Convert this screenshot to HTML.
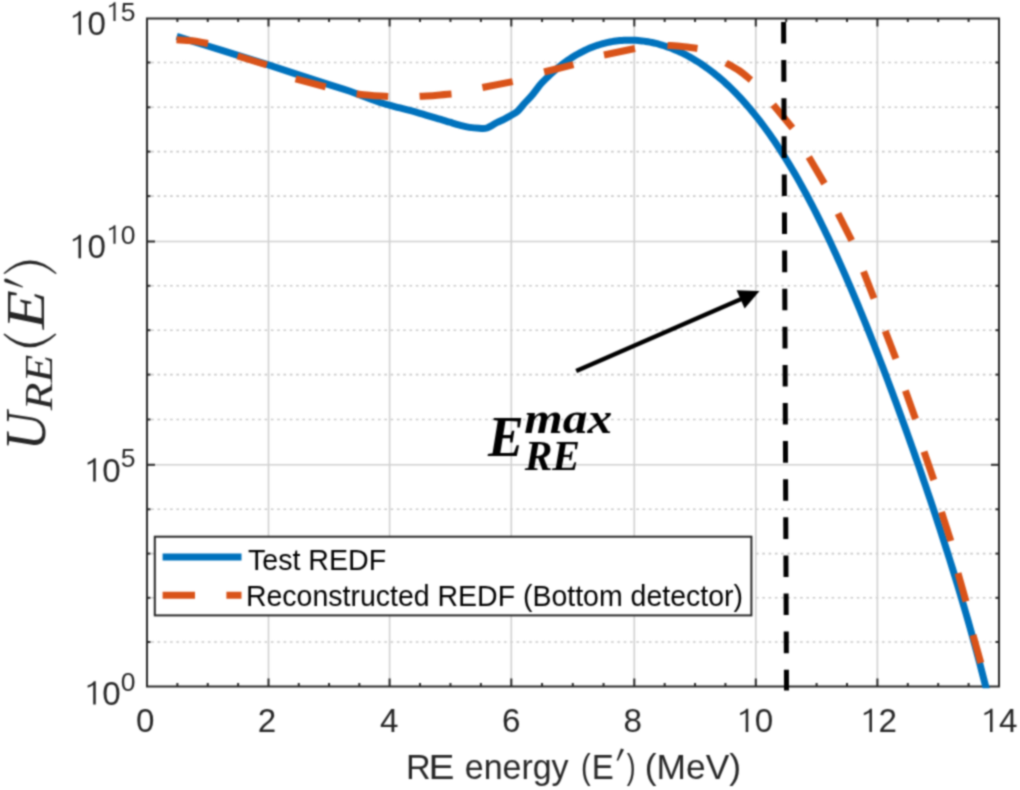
<!DOCTYPE html><html><head><meta charset="utf-8"><style>html,body{margin:0;padding:0;background:#fff;}svg{display:block;}</style></head><body>
<svg width="1020" height="790" viewBox="0 0 1020 790">
<rect width="1020" height="790" fill="#fff"/>
<filter id="bl" x="0" y="0" width="1020" height="790" filterUnits="userSpaceOnUse" color-interpolation-filters="sRGB"><feConvolveMatrix order="5" kernelMatrix="0.0019 0.0201 0.0439 0.0201 0.0019 0.0201 0.2096 0.4578 0.2096 0.0201 0.0439 0.4578 1.0000 0.4578 0.0439 0.0201 0.2096 0.4578 0.2096 0.0201 0.0019 0.0201 0.0439 0.0201 0.0019" edgeMode="duplicate"/></filter>
<g filter="url(#bl)">
<defs><clipPath id="ax"><rect x="147.0" y="18.5" width="852.0" height="669.8"/></clipPath></defs>
<g stroke="#c8c8c8" stroke-width="1.6" stroke-dasharray="2.6 3.7"><line x1="151.2" y1="642.00" x2="997.0" y2="642.00"/><line x1="151.2" y1="597.80" x2="997.0" y2="597.80"/><line x1="151.2" y1="553.60" x2="997.0" y2="553.60"/><line x1="151.2" y1="509.30" x2="997.0" y2="509.30"/><line x1="151.2" y1="419.50" x2="997.0" y2="419.50"/><line x1="151.2" y1="374.60" x2="997.0" y2="374.60"/><line x1="151.2" y1="330.20" x2="997.0" y2="330.20"/><line x1="151.2" y1="285.80" x2="997.0" y2="285.80"/><line x1="151.2" y1="196.10" x2="997.0" y2="196.10"/><line x1="151.2" y1="151.60" x2="997.0" y2="151.60"/><line x1="151.2" y1="107.30" x2="997.0" y2="107.30"/><line x1="151.2" y1="62.50" x2="997.0" y2="62.50"/></g>
<g stroke="#d0d0d0" stroke-width="1.6"><line x1="147.0" y1="464.80" x2="999.0" y2="464.80"/><line x1="147.0" y1="241.50" x2="999.0" y2="241.50"/><line x1="268.50" y1="18.5" x2="268.50" y2="686.5"/><line x1="389.60" y1="18.5" x2="389.60" y2="686.5"/><line x1="511.30" y1="18.5" x2="511.30" y2="686.5"/><line x1="634.30" y1="18.5" x2="634.30" y2="686.5"/><line x1="755.80" y1="18.5" x2="755.80" y2="686.5"/><line x1="877.40" y1="18.5" x2="877.40" y2="686.5"/></g>
<rect x="147.0" y="18.5" width="852.0" height="668.0" fill="none" stroke="#262626" stroke-width="2"/>
<g stroke="#262626" stroke-width="2"><line x1="177.38" y1="686.5" x2="177.38" y2="683.0"/><line x1="177.38" y1="18.5" x2="177.38" y2="22.0"/><line x1="207.75" y1="686.5" x2="207.75" y2="683.0"/><line x1="207.75" y1="18.5" x2="207.75" y2="22.0"/><line x1="238.12" y1="686.5" x2="238.12" y2="683.0"/><line x1="238.12" y1="18.5" x2="238.12" y2="22.0"/><line x1="268.50" y1="686.5" x2="268.50" y2="678.5"/><line x1="268.50" y1="18.5" x2="268.50" y2="26.5"/><line x1="298.77" y1="686.5" x2="298.77" y2="683.0"/><line x1="298.77" y1="18.5" x2="298.77" y2="22.0"/><line x1="329.05" y1="686.5" x2="329.05" y2="683.0"/><line x1="329.05" y1="18.5" x2="329.05" y2="22.0"/><line x1="359.33" y1="686.5" x2="359.33" y2="683.0"/><line x1="359.33" y1="18.5" x2="359.33" y2="22.0"/><line x1="389.60" y1="686.5" x2="389.60" y2="678.5"/><line x1="389.60" y1="18.5" x2="389.60" y2="26.5"/><line x1="420.03" y1="686.5" x2="420.03" y2="683.0"/><line x1="420.03" y1="18.5" x2="420.03" y2="22.0"/><line x1="450.45" y1="686.5" x2="450.45" y2="683.0"/><line x1="450.45" y1="18.5" x2="450.45" y2="22.0"/><line x1="480.88" y1="686.5" x2="480.88" y2="683.0"/><line x1="480.88" y1="18.5" x2="480.88" y2="22.0"/><line x1="511.30" y1="686.5" x2="511.30" y2="678.5"/><line x1="511.30" y1="18.5" x2="511.30" y2="26.5"/><line x1="542.05" y1="686.5" x2="542.05" y2="683.0"/><line x1="542.05" y1="18.5" x2="542.05" y2="22.0"/><line x1="572.80" y1="686.5" x2="572.80" y2="683.0"/><line x1="572.80" y1="18.5" x2="572.80" y2="22.0"/><line x1="603.55" y1="686.5" x2="603.55" y2="683.0"/><line x1="603.55" y1="18.5" x2="603.55" y2="22.0"/><line x1="634.30" y1="686.5" x2="634.30" y2="678.5"/><line x1="634.30" y1="18.5" x2="634.30" y2="26.5"/><line x1="664.67" y1="686.5" x2="664.67" y2="683.0"/><line x1="664.67" y1="18.5" x2="664.67" y2="22.0"/><line x1="695.05" y1="686.5" x2="695.05" y2="683.0"/><line x1="695.05" y1="18.5" x2="695.05" y2="22.0"/><line x1="725.42" y1="686.5" x2="725.42" y2="683.0"/><line x1="725.42" y1="18.5" x2="725.42" y2="22.0"/><line x1="755.80" y1="686.5" x2="755.80" y2="678.5"/><line x1="755.80" y1="18.5" x2="755.80" y2="26.5"/><line x1="786.20" y1="686.5" x2="786.20" y2="683.0"/><line x1="786.20" y1="18.5" x2="786.20" y2="22.0"/><line x1="816.60" y1="686.5" x2="816.60" y2="683.0"/><line x1="816.60" y1="18.5" x2="816.60" y2="22.0"/><line x1="847.00" y1="686.5" x2="847.00" y2="683.0"/><line x1="847.00" y1="18.5" x2="847.00" y2="22.0"/><line x1="877.40" y1="686.5" x2="877.40" y2="678.5"/><line x1="877.40" y1="18.5" x2="877.40" y2="26.5"/><line x1="907.80" y1="686.5" x2="907.80" y2="683.0"/><line x1="907.80" y1="18.5" x2="907.80" y2="22.0"/><line x1="938.20" y1="686.5" x2="938.20" y2="683.0"/><line x1="938.20" y1="18.5" x2="938.20" y2="22.0"/><line x1="968.60" y1="686.5" x2="968.60" y2="683.0"/><line x1="968.60" y1="18.5" x2="968.60" y2="22.0"/><line x1="147.0" y1="642.00" x2="150.5" y2="642.00"/><line x1="999.0" y1="642.00" x2="995.5" y2="642.00"/><line x1="147.0" y1="597.80" x2="150.5" y2="597.80"/><line x1="999.0" y1="597.80" x2="995.5" y2="597.80"/><line x1="147.0" y1="553.60" x2="150.5" y2="553.60"/><line x1="999.0" y1="553.60" x2="995.5" y2="553.60"/><line x1="147.0" y1="509.30" x2="150.5" y2="509.30"/><line x1="999.0" y1="509.30" x2="995.5" y2="509.30"/><line x1="147.0" y1="464.80" x2="155.0" y2="464.80"/><line x1="999.0" y1="464.80" x2="991.0" y2="464.80"/><line x1="147.0" y1="419.50" x2="150.5" y2="419.50"/><line x1="999.0" y1="419.50" x2="995.5" y2="419.50"/><line x1="147.0" y1="374.60" x2="150.5" y2="374.60"/><line x1="999.0" y1="374.60" x2="995.5" y2="374.60"/><line x1="147.0" y1="330.20" x2="150.5" y2="330.20"/><line x1="999.0" y1="330.20" x2="995.5" y2="330.20"/><line x1="147.0" y1="285.80" x2="150.5" y2="285.80"/><line x1="999.0" y1="285.80" x2="995.5" y2="285.80"/><line x1="147.0" y1="241.50" x2="155.0" y2="241.50"/><line x1="999.0" y1="241.50" x2="991.0" y2="241.50"/><line x1="147.0" y1="196.10" x2="150.5" y2="196.10"/><line x1="999.0" y1="196.10" x2="995.5" y2="196.10"/><line x1="147.0" y1="151.60" x2="150.5" y2="151.60"/><line x1="999.0" y1="151.60" x2="995.5" y2="151.60"/><line x1="147.0" y1="107.30" x2="150.5" y2="107.30"/><line x1="999.0" y1="107.30" x2="995.5" y2="107.30"/><line x1="147.0" y1="62.50" x2="150.5" y2="62.50"/><line x1="999.0" y1="62.50" x2="995.5" y2="62.50"/></g>
<g clip-path="url(#ax)" fill="none">
<path d="M176.70 36.40 C184.25 38.73 206.85 45.68 222.00 50.40 C237.15 55.12 250.68 59.28 267.60 64.70 C284.52 70.12 309.77 78.47 323.50 82.90 C337.23 87.33 340.58 88.03 350.00 91.30 C359.42 94.57 371.67 99.73 380.00 102.50 C388.33 105.27 393.33 106.10 400.00 107.90 C406.67 109.70 413.33 111.42 420.00 113.30 C426.67 115.18 435.03 117.72 440.00 119.20 C444.97 120.68 446.53 121.22 449.80 122.20 C453.07 123.18 456.33 124.23 459.60 125.10 C462.87 125.97 466.13 126.87 469.40 127.40 C472.67 127.93 476.27 128.20 479.20 128.30 C482.13 128.40 484.03 128.97 487.00 128.00 C489.97 127.03 494.18 123.95 497.00 122.50 C499.82 121.05 501.58 120.47 503.90 119.30 C506.22 118.13 508.63 116.83 510.90 115.50 C513.17 114.17 515.18 113.38 517.50 111.30 C519.82 109.22 522.42 105.63 524.80 103.00 C527.18 100.37 529.27 98.53 531.80 95.50 C534.33 92.47 538.63 86.59 540.00 84.81 L542.00 82.70 L544.00 80.65 L546.00 78.65 L548.00 76.70 L550.00 74.81 L552.00 72.97 L554.00 71.19 L556.00 69.46 L558.00 67.78 L560.00 66.16 L562.00 64.60 L564.00 63.08 L566.00 61.62 L568.00 60.21 L570.00 58.85 L572.00 57.55 L574.00 56.30 L576.00 55.09 L578.00 53.94 L580.00 52.84 L582.00 51.79 L584.00 50.78 L586.00 49.83 L588.00 48.92 L590.00 48.06 L592.00 47.25 L594.00 46.49 L596.00 45.77 L598.00 45.09 L600.00 44.47 L602.00 43.88 L604.00 43.34 L606.00 42.85 L608.00 42.39 L610.00 41.98 L612.00 41.61 L614.00 41.29 L616.00 41.00 L618.00 40.76 L620.00 40.56 L622.00 40.39 L624.00 40.27 L626.00 40.19 L628.00 40.14 L630.00 40.13 L632.00 40.17 L634.00 40.24 L636.00 40.35 L638.00 40.49 L640.00 40.68 L642.00 40.90 L644.00 41.15 L646.00 41.45 L648.00 41.78 L650.00 42.15 L652.00 42.55 L654.00 42.99 L656.00 43.47 L658.00 43.98 L660.00 44.53 L662.00 45.12 L664.00 45.74 L666.00 46.40 L668.00 47.09 L670.00 47.82 L672.00 48.59 L674.00 49.39 L676.00 50.23 L678.00 51.10 L680.00 52.01 L682.00 52.96 L684.00 53.95 L686.00 54.97 L688.00 56.03 L690.00 57.12 L692.00 58.26 L694.00 59.43 L696.00 60.64 L698.00 61.89 L700.00 63.18 L702.00 64.51 L704.00 65.87 L706.00 67.28 L708.00 68.72 L710.00 70.21 L712.00 71.73 L714.00 73.30 L716.00 74.90 L718.00 76.55 L720.00 78.24 L722.00 79.97 L724.00 81.74 L726.00 83.56 L728.00 85.42 L730.00 87.32 L732.00 89.26 L734.00 91.25 L736.00 93.28 L738.00 95.36 L740.00 97.48 L742.00 99.65 L744.00 101.86 L746.00 104.11 L748.00 106.42 L750.00 108.76 L752.00 111.16 L754.00 113.60 L756.00 116.08 L758.00 118.62 L760.00 121.20 L762.00 123.83 L764.00 126.50 L766.00 129.22 L768.00 131.99 L770.00 134.81 L772.00 137.68 L774.00 140.59 L776.00 143.56 L778.00 146.57 L780.00 149.63 L782.00 152.73 L784.00 155.89 L786.00 159.09 L788.00 162.35 L790.00 165.65 L792.00 169.00 L794.00 172.39 L796.00 175.84 L798.00 179.33 L800.00 182.87 L802.00 186.46 L804.00 190.10 L806.00 193.78 L808.00 197.51 L810.00 201.29 L812.00 205.12 L814.00 208.99 L816.00 212.91 L818.00 216.87 L820.00 220.88 L822.00 224.93 L824.00 229.03 L826.00 233.17 L828.00 237.36 L830.00 241.59 L832.00 245.86 L834.00 250.18 L836.00 254.54 L838.00 258.94 L840.00 263.38 L842.00 267.87 L844.00 272.39 L846.00 276.95 L848.00 281.56 L850.00 286.20 L852.00 290.88 L854.00 295.60 L856.00 300.36 L858.00 305.15 L860.00 309.98 L862.00 314.84 L864.00 319.75 L866.00 324.68 L868.00 329.65 L870.00 334.65 L872.00 339.69 L874.00 344.76 L876.00 349.86 L878.00 355.00 L880.00 360.16 L882.00 365.36 L884.00 370.58 L886.00 375.84 L888.00 381.13 L890.00 386.45 L892.00 391.79 L894.00 397.17 L896.00 402.57 L898.00 408.01 L900.00 413.47 L902.00 418.96 L904.00 424.48 L906.00 430.03 L908.00 435.61 L910.00 441.22 L912.00 446.85 L914.00 452.52 L916.00 458.22 L918.00 463.94 L920.00 469.70 L922.00 475.49 L924.00 481.32 L926.00 487.17 L928.00 493.06 L930.00 498.99 L932.00 504.95 L934.00 510.95 L936.00 516.99 L938.00 523.07 L940.00 529.19 L942.00 535.36 L944.00 541.57 L946.00 547.83 L948.00 554.14 L950.00 560.50 L952.00 566.91 L954.00 573.39 L956.00 579.92 L958.00 586.52 L960.00 593.18 L962.00 599.92 L964.00 606.73 L966.00 613.61 L968.00 620.58 L970.00 627.63 L972.00 634.77 L974.00 642.01 L976.00 649.35 L978.00 656.79 L980.00 664.34 L982.00 672.01 L984.00 679.79 L986.00 687.71 L988.00 695.76" stroke="#0072BD" stroke-width="7" stroke-linejoin="round"/>
<path d="M176.50 39.80 C179.08 39.97 186.75 40.17 192.00 40.80 C197.25 41.43 205.33 43.13 208.00 43.60" stroke="#D95319" stroke-width="7"/>
<path d="M237.5 56.0 L266.9 65.0" stroke="#D95319" stroke-width="7"/>
<path d="M295.6 78.8 L325.7 86.8" stroke="#D95319" stroke-width="7"/>
<path d="M356.60 94.00 C359.17 94.27 366.73 95.18 372.00 95.60 C377.27 96.02 385.50 96.35 388.20 96.50" stroke="#D95319" stroke-width="7"/>
<path d="M419.60 96.30 C422.17 96.15 429.68 95.78 435.00 95.40 C440.32 95.02 448.75 94.23 451.50 94.00" stroke="#D95319" stroke-width="7"/>
<path d="M482.4 87.5 L512.7 81.6" stroke="#D95319" stroke-width="7"/>
<path d="M544.1 72.0 L573.5 64.7" stroke="#D95319" stroke-width="7"/>
<path d="M604.0 55.0 L635.0 48.5" stroke="#D95319" stroke-width="7"/>
<path d="M667.50 45.40 C669.92 45.57 677.00 45.88 682.00 46.40 C687.00 46.92 694.92 48.15 697.50 48.50" stroke="#D95319" stroke-width="7"/>
<path d="M726.00 62.90 C728.17 64.17 734.83 67.65 739.00 70.50 C743.17 73.35 749.00 78.42 751.00 80.00" stroke="#D95319" stroke-width="7"/>
<path d="M773.2 104.8 L792.5 128.0" stroke="#D95319" stroke-width="7"/>
<path d="M808.8 157.0 L824.5 183.6" stroke="#D95319" stroke-width="7"/>
<path d="M838.0 213.5 L851.7 240.5" stroke="#D95319" stroke-width="7"/>
<path d="M863.5 271.5 L874.0 298.5" stroke="#D95319" stroke-width="7"/>
<path d="M885.2 331.0 L895.9 358.7" stroke="#D95319" stroke-width="7"/>
<path d="M905.4 390.6 L915.5 419.0" stroke="#D95319" stroke-width="7"/>
<path d="M924.0 451.6 L933.8 480.0" stroke="#D95319" stroke-width="7"/>
<path d="M941.5 512.0 L950.8 541.0" stroke="#D95319" stroke-width="7"/>
<path d="M958.0 573.1 L966.0 601.5" stroke="#D95319" stroke-width="7"/>
<path d="M973.0 635.0 L980.8 663.0" stroke="#D95319" stroke-width="7"/>
</g>
<line x1="783.6" y1="22" x2="786.5" y2="690.4" stroke="#000" stroke-width="5" stroke-dasharray="21.6 16.5"/>
<g fill="#262626">
<text x="136.02" y="732.00" font-family="Liberation Sans, sans-serif" font-size="33.20">0</text>
<text x="257.77" y="732.00" font-family="Liberation Sans, sans-serif" font-size="33.20">2</text>
<text x="379.97" y="732.00" font-family="Liberation Sans, sans-serif" font-size="33.20">4</text>
<text x="502.07" y="732.00" font-family="Liberation Sans, sans-serif" font-size="33.20">6</text>
<text x="623.57" y="732.00" font-family="Liberation Sans, sans-serif" font-size="33.20">8</text>
<path transform="translate(736.24 732.00) scale(0.03320 -0.03320)" d="M285 0 L362 0 L362 703 L305 703 Q282 652 212 614 L117 574 L117 505 Q220 537 285 590 Z"/><text x="754.70" y="732.00" font-family="Liberation Sans, sans-serif" font-size="33.20">0</text>
<path transform="translate(859.94 732.00) scale(0.03320 -0.03320)" d="M285 0 L362 0 L362 703 L305 703 Q282 652 212 614 L117 574 L117 505 Q220 537 285 590 Z"/><text x="878.40" y="732.00" font-family="Liberation Sans, sans-serif" font-size="33.20">2</text>
<path transform="translate(980.54 732.00) scale(0.03320 -0.03320)" d="M285 0 L362 0 L362 703 L305 703 Q282 652 212 614 L117 574 L117 505 Q220 537 285 590 Z"/><text x="999.00" y="732.00" font-family="Liberation Sans, sans-serif" font-size="33.20">4</text>
<path transform="translate(105.93 20.90) scale(0.02650 -0.02650)" d="M285 0 L362 0 L362 703 L305 703 Q282 652 212 614 L117 574 L117 505 Q220 537 285 590 Z"/><text x="120.67" y="20.90" font-family="Liberation Sans, sans-serif" font-size="26.50">5</text>
<path transform="translate(69.01 34.70) scale(0.03320 -0.03320)" d="M285 0 L362 0 L362 703 L305 703 Q282 652 212 614 L117 574 L117 505 Q220 537 285 590 Z"/><text x="87.47" y="34.70" font-family="Liberation Sans, sans-serif" font-size="33.20">0</text>
<path transform="translate(105.93 243.80) scale(0.02650 -0.02650)" d="M285 0 L362 0 L362 703 L305 703 Q282 652 212 614 L117 574 L117 505 Q220 537 285 590 Z"/><text x="120.67" y="243.80" font-family="Liberation Sans, sans-serif" font-size="26.50">0</text>
<path transform="translate(69.01 258.20) scale(0.03320 -0.03320)" d="M285 0 L362 0 L362 703 L305 703 Q282 652 212 614 L117 574 L117 505 Q220 537 285 590 Z"/><text x="87.47" y="258.20" font-family="Liberation Sans, sans-serif" font-size="33.20">0</text>
<text x="120.67" y="467.40" font-family="Liberation Sans, sans-serif" font-size="26.50">5</text>
<path transform="translate(83.75 481.50) scale(0.03320 -0.03320)" d="M285 0 L362 0 L362 703 L305 703 Q282 652 212 614 L117 574 L117 505 Q220 537 285 590 Z"/><text x="102.21" y="481.50" font-family="Liberation Sans, sans-serif" font-size="33.20">0</text>
<text x="120.67" y="690.50" font-family="Liberation Sans, sans-serif" font-size="26.50">0</text>
<path transform="translate(83.75 704.60) scale(0.03320 -0.03320)" d="M285 0 L362 0 L362 703 L305 703 Q282 652 212 614 L117 574 L117 505 Q220 537 285 590 Z"/><text x="102.21" y="704.60" font-family="Liberation Sans, sans-serif" font-size="33.20">0</text>
</g>
<g fill="#262626">
<text x="406.00" y="779.00" font-family="Liberation Sans, sans-serif" font-size="34.60" textLength="24.69" lengthAdjust="spacingAndGlyphs">R</text>
<text x="428.61" y="779.00" font-family="Liberation Sans, sans-serif" font-size="34.60" textLength="25.97" lengthAdjust="spacingAndGlyphs">E</text>
<text x="464.76" y="779.00" font-family="Liberation Sans, sans-serif" font-size="34.60" textLength="103.81" lengthAdjust="spacingAndGlyphs">energy</text>
<text x="581.00" y="779.00" font-family="Liberation Sans, sans-serif" font-size="34.60" textLength="9.67" lengthAdjust="spacingAndGlyphs">(</text>
<text x="591.69" y="779.00" font-family="Liberation Sans, sans-serif" font-size="34.60" textLength="22.03" lengthAdjust="spacingAndGlyphs">E</text>
<text x="626.85" y="779.00" font-family="Liberation Sans, sans-serif" font-size="34.60" textLength="8.79" lengthAdjust="spacingAndGlyphs">)</text>
<text x="644.81" y="779.00" font-family="Liberation Sans, sans-serif" font-size="34.60" textLength="96.29" lengthAdjust="spacingAndGlyphs">(MeV)</text>
<polygon points="620.9,748.6 624.0,749.4 618.2,760.8 616.6,760.4"/>
</g>
<g transform="rotate(-90)" fill="#262626">
<text x="-450.27" y="44.60" font-family="Liberation Serif, serif" font-size="57.50" font-style="italic" textLength="38.29" lengthAdjust="spacingAndGlyphs">U</text>
<text x="-410.26" y="52.00" font-family="Liberation Serif, serif" font-size="40.00" font-style="italic" textLength="55.39" lengthAdjust="spacingAndGlyphs">RE</text>
<text x="-329.25" y="43.70" font-family="Liberation Serif, serif" font-size="55.00" font-style="italic" textLength="38.98" lengthAdjust="spacingAndGlyphs">E</text>
</g>
<g fill="#262626">
<path d="M3.4 273.2 Q30 247.6 56.8 273.2 L55.6 274.0 Q30 253.6 4.6 274.0 Z"/>
<path d="M3.4 334.4 Q30 360.0 56.4 334.4 L55.2 333.6 Q30 354.0 4.6 333.6 Z"/>
<path d="M4.4 279.0 Q3.6 282.2 6.2 282.6 L22.6 287.6 L23.0 286.4 L7.6 279.0 Q5.8 277.8 4.4 279.0 Z"/>
</g>
<rect x="154.8" y="536.7" width="596.6" height="78.7" fill="#fff" stroke="#262626" stroke-width="2"/>
<line x1="162.6" y1="557" x2="241.5" y2="557" stroke="#0072BD" stroke-width="7"/>
<line x1="162.6" y1="595.3" x2="241.5" y2="595.3" stroke="#D95319" stroke-width="7" stroke-dasharray="32.4 31.4"/>
<g fill="#000">
<text x="247.97" y="570.10" font-family="Liberation Sans, sans-serif" font-size="28.80" textLength="138.25" lengthAdjust="spacingAndGlyphs">Test REDF</text>
<text x="245.96" y="605.90" font-family="Liberation Sans, sans-serif" font-size="28.80" textLength="497.00" lengthAdjust="spacingAndGlyphs">Reconstructed REDF (Bottom detector)</text>
</g>
<line x1="576.2" y1="371.0" x2="742.4" y2="298.5" stroke="#000" stroke-width="4.5"/>
<polygon points="759.5,291.1 744.6,308.5 736.6,290.2" fill="#000"/>
<g fill="#000">
<text x="487.89" y="456.30" font-family="Liberation Serif, serif" font-size="58.00" font-style="italic" font-weight="bold" textLength="35.74" lengthAdjust="spacingAndGlyphs">E</text>
<text x="524.36" y="432.90" font-family="Liberation Serif, serif" font-size="44.50" font-style="italic" font-weight="bold" textLength="87.85" lengthAdjust="spacingAndGlyphs">max</text>
<text x="524.66" y="470.00" font-family="Liberation Serif, serif" font-size="41.50" font-style="italic" font-weight="bold" textLength="55.32" lengthAdjust="spacingAndGlyphs">RE</text>
</g>
</g>
</svg></body></html>
